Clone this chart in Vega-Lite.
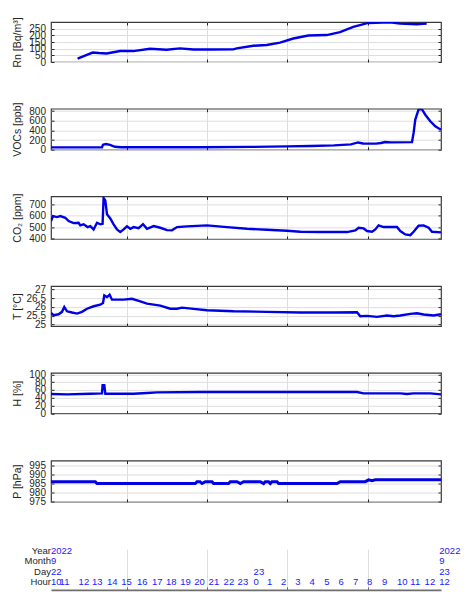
{
  "$schema": "https://vega.github.io/schema/vega-lite/v6.json",
  "padding": {"left": 11, "top": 16, "right": 5, "bottom": 5},
  "background": "white",
  "config": {
    "view": {"stroke": "#3a3a3a", "strokeWidth": 1.2},
    "axis": {
      "labelFont": "Liberation Sans", "labelFontSize": 10, "labelColor": "#262626",
      "labelOverlap": false, "labelFlush": false, "labelPadding": 8.5,
      "titleFont": "Liberation Sans", "titleFontSize": 10.5, "titleFontWeight": "normal", "titleColor": "#262626",
      "tickSize": -3, "tickColor": "#262626", "tickWidth": 1,
      "gridColor": "#dedede", "gridWidth": 1,
      "domain": false
    },
    "axisLeft": {"titleX": -34, "titleBaseline": "middle", "titleAngle": 270}
  },
  "datasets": {
    "rn": [
      {"i": 26.6, "v": 25}, {"i": 34, "v": 48}, {"i": 41.7, "v": 71}, {"i": 48, "v": 67}, {"i": 55.7, "v": 64},
      {"i": 69, "v": 82}, {"i": 82.3, "v": 82}, {"i": 99, "v": 99}, {"i": 115.7, "v": 92}, {"i": 129, "v": 102},
      {"i": 142.3, "v": 94}, {"i": 160, "v": 94}, {"i": 182.3, "v": 95}, {"i": 185.7, "v": 102}, {"i": 202.3, "v": 122},
      {"i": 215.7, "v": 128}, {"i": 229, "v": 145}, {"i": 242.3, "v": 176}, {"i": 257.3, "v": 199}, {"i": 275.7, "v": 202},
      {"i": 289, "v": 224}, {"i": 302.3, "v": 263}, {"i": 317.3, "v": 293}, {"i": 339, "v": 298}, {"i": 349, "v": 288},
      {"i": 365.7, "v": 283}, {"i": 375.7, "v": 288}
    ],
    "voc": [
      {"i": 0, "v": 49}, {"i": 20, "v": 48}, {"i": 40, "v": 49}, {"i": 51, "v": 50}, {"i": 52, "v": 104}, {"i": 55, "v": 118},
      {"i": 59, "v": 100}, {"i": 64, "v": 60}, {"i": 70, "v": 50}, {"i": 100, "v": 50}, {"i": 150, "v": 52},
      {"i": 200, "v": 58}, {"i": 236, "v": 68}, {"i": 260, "v": 78}, {"i": 283, "v": 90}, {"i": 300, "v": 110},
      {"i": 307, "v": 150}, {"i": 312, "v": 128}, {"i": 325, "v": 125}, {"i": 330, "v": 140}, {"i": 334, "v": 160},
      {"i": 340, "v": 152}, {"i": 361, "v": 158}, {"i": 362.6, "v": 348}, {"i": 364.3, "v": 626}, {"i": 367.6, "v": 835},
      {"i": 371, "v": 835}, {"i": 374.3, "v": 725}, {"i": 379.3, "v": 590}, {"i": 384.3, "v": 483}, {"i": 388.6, "v": 430},
      {"i": 390, "v": 425}
    ],
    "co2": [
      {"i": 0, "v": 553}, {"i": 2, "v": 597}, {"i": 6, "v": 588}, {"i": 9.3, "v": 597}, {"i": 14.3, "v": 582},
      {"i": 17.6, "v": 553}, {"i": 22.6, "v": 535}, {"i": 27.6, "v": 538}, {"i": 29.3, "v": 515}, {"i": 32.6, "v": 524},
      {"i": 36.6, "v": 500}, {"i": 39.3, "v": 509}, {"i": 42.6, "v": 479}, {"i": 46, "v": 538}, {"i": 49.3, "v": 524},
      {"i": 51.6, "v": 529}, {"i": 52.6, "v": 756}, {"i": 54.3, "v": 735}, {"i": 56, "v": 612}, {"i": 59.3, "v": 576},
      {"i": 62.6, "v": 524}, {"i": 66, "v": 479}, {"i": 69.3, "v": 456}, {"i": 72.6, "v": 479}, {"i": 76, "v": 506},
      {"i": 79.3, "v": 485}, {"i": 82.6, "v": 500}, {"i": 87.6, "v": 491}, {"i": 92, "v": 526}, {"i": 96, "v": 485},
      {"i": 102.6, "v": 509}, {"i": 109.3, "v": 494}, {"i": 116, "v": 473}, {"i": 121, "v": 471}, {"i": 126, "v": 500},
      {"i": 136, "v": 506}, {"i": 156, "v": 515}, {"i": 176, "v": 500}, {"i": 196, "v": 485}, {"i": 216, "v": 476},
      {"i": 236, "v": 468}, {"i": 249.3, "v": 459}, {"i": 269.3, "v": 456}, {"i": 296, "v": 456}, {"i": 304.3, "v": 471},
      {"i": 307.6, "v": 494}, {"i": 312.6, "v": 488}, {"i": 316, "v": 465}, {"i": 321, "v": 459}, {"i": 324.3, "v": 479},
      {"i": 327.6, "v": 515}, {"i": 332.6, "v": 500}, {"i": 339.3, "v": 500}, {"i": 346, "v": 500}, {"i": 349.3, "v": 465},
      {"i": 354.3, "v": 435}, {"i": 359.3, "v": 429}, {"i": 362.6, "v": 459}, {"i": 367.6, "v": 512}, {"i": 372.6, "v": 515},
      {"i": 377.6, "v": 494}, {"i": 381, "v": 459}, {"i": 390, "v": 453}
    ],
    "t": [
      {"i": 0, "v": 25.66}, {"i": 2.6, "v": 25.53}, {"i": 7.6, "v": 25.58}, {"i": 11, "v": 25.72}, {"i": 13.3, "v": 26.0},
      {"i": 16, "v": 25.75}, {"i": 21, "v": 25.68}, {"i": 26, "v": 25.62}, {"i": 31, "v": 25.72}, {"i": 36, "v": 25.9},
      {"i": 42.6, "v": 26.04}, {"i": 49.3, "v": 26.13}, {"i": 52, "v": 26.23}, {"i": 53.3, "v": 26.66}, {"i": 56, "v": 26.57},
      {"i": 58.6, "v": 26.7}, {"i": 61, "v": 26.42}, {"i": 66, "v": 26.42}, {"i": 72.6, "v": 26.42}, {"i": 81, "v": 26.47},
      {"i": 89.3, "v": 26.32}, {"i": 96, "v": 26.19}, {"i": 109.3, "v": 26.08}, {"i": 119.3, "v": 25.9}, {"i": 126, "v": 25.9},
      {"i": 131, "v": 25.96}, {"i": 142.6, "v": 25.89}, {"i": 156, "v": 25.81}, {"i": 182.6, "v": 25.75}, {"i": 216, "v": 25.72},
      {"i": 249.3, "v": 25.68}, {"i": 282.6, "v": 25.68}, {"i": 306, "v": 25.7}, {"i": 309.3, "v": 25.47}, {"i": 316, "v": 25.49},
      {"i": 326, "v": 25.43}, {"i": 336, "v": 25.51}, {"i": 342.6, "v": 25.47}, {"i": 349.3, "v": 25.51}, {"i": 359.3, "v": 25.6},
      {"i": 366, "v": 25.64}, {"i": 372.6, "v": 25.57}, {"i": 382.6, "v": 25.51}, {"i": 390, "v": 25.58}
    ],
    "h": [
      {"i": 0, "v": 49.6}, {"i": 16, "v": 48.7}, {"i": 39.3, "v": 50.4}, {"i": 51, "v": 51.3}, {"i": 51.6, "v": 72},
      {"i": 53.3, "v": 72}, {"i": 54.3, "v": 50.4}, {"i": 82.6, "v": 50.4}, {"i": 96, "v": 52.2}, {"i": 106, "v": 53.9},
      {"i": 150, "v": 54.7}, {"i": 306, "v": 54.7}, {"i": 312.6, "v": 51.3}, {"i": 349.3, "v": 51.3}, {"i": 356, "v": 49.6},
      {"i": 362.6, "v": 51.3}, {"i": 379.3, "v": 51.3}, {"i": 390, "v": 48.7}
    ],
    "p": [
      {"i": 0, "v": 986}, {"i": 44.3, "v": 986}, {"i": 46, "v": 985}, {"i": 144.3, "v": 985}, {"i": 146, "v": 986},
      {"i": 149, "v": 986}, {"i": 151, "v": 985}, {"i": 154.3, "v": 986}, {"i": 161, "v": 986}, {"i": 162.6, "v": 985},
      {"i": 177.6, "v": 985}, {"i": 179.3, "v": 986}, {"i": 186, "v": 986}, {"i": 189.3, "v": 985}, {"i": 192.6, "v": 986},
      {"i": 209.3, "v": 986}, {"i": 212.6, "v": 985}, {"i": 214.3, "v": 986}, {"i": 217.6, "v": 986}, {"i": 219.3, "v": 985},
      {"i": 221, "v": 986}, {"i": 226, "v": 986}, {"i": 227.6, "v": 985}, {"i": 286, "v": 985}, {"i": 289.3, "v": 986},
      {"i": 314.3, "v": 986}, {"i": 317.6, "v": 987}, {"i": 321, "v": 986.5}, {"i": 324.3, "v": 987}, {"i": 390, "v": 987}
    ],
    "hdr": [
      {"i": 0, "r": 4, "s": "Year"}, {"i": 0, "r": 3, "s": "Month"}, {"i": 0, "r": 2, "s": "Day"}, {"i": 0, "r": 1, "s": "Hour"}
    ],
    "lab": [
      {"i": 0, "r": 4, "s": "2022"}, {"i": 388.3, "r": 4, "s": "2022"},
      {"i": 0, "r": 3, "s": "9"}, {"i": 388.3, "r": 3, "s": "9"},
      {"i": 0, "r": 2, "s": "22"}, {"i": 202.6, "r": 2, "s": "23"}, {"i": 388.3, "r": 2, "s": "23"},
      {"i": 0, "r": 1, "s": "10"}, {"i": 8.6, "r": 1, "s": "11"}, {"i": 27.6, "r": 1, "s": "12"}, {"i": 41, "r": 1, "s": "13"},
      {"i": 56, "r": 1, "s": "14"}, {"i": 70.3, "r": 1, "s": "15"}, {"i": 86, "r": 1, "s": "16"}, {"i": 101, "r": 1, "s": "17"},
      {"i": 115, "r": 1, "s": "18"}, {"i": 129.3, "r": 1, "s": "19"}, {"i": 143.3, "r": 1, "s": "20"}, {"i": 157.6, "r": 1, "s": "21"},
      {"i": 172.6, "r": 1, "s": "22"}, {"i": 186.6, "r": 1, "s": "23"}, {"i": 202.6, "r": 1, "s": "0"}, {"i": 216, "r": 1, "s": "1"},
      {"i": 230, "r": 1, "s": "2"}, {"i": 244.3, "r": 1, "s": "3"}, {"i": 258.6, "r": 1, "s": "4"}, {"i": 273.3, "r": 1, "s": "5"},
      {"i": 287.6, "r": 1, "s": "6"}, {"i": 302, "r": 1, "s": "7"}, {"i": 316, "r": 1, "s": "8"}, {"i": 331, "r": 1, "s": "9"},
      {"i": 346, "r": 1, "s": "10"}, {"i": 359.3, "r": 1, "s": "11"}, {"i": 373.6, "r": 1, "s": "12"}, {"i": 388.3, "r": 1, "s": "12"}
    ]
  },
  "vconcat": [
    {
      "width": 390, "height": 40, "data": {"name": "rn"},
      "layer": [
        {"mark": {"type": "line", "color": "#0000e6", "strokeWidth": 2.4, "clip": true},
         "encoding": {
           "x": {"field": "i", "type": "quantitative", "scale": {"domain": [0, 390], "nice": false, "zero": false}, "axis": {"orient": "bottom", "values": [75.5, 156, 236.5, 317], "labels": false, "grid": true, "title": null}},
           "y": {"field": "v", "type": "quantitative", "scale": {"domain": [0, 300], "nice": false, "zero": false}, "axis": {"orient": "left", "values": [0, 50, 100, 150, 200, 250], "grid": true, "labelExpr": "'' + datum.value", "title": "Rn [Bq/m³]"}}}},
        {"mark": {"type": "line", "strokeOpacity": 0},
         "encoding": {
           "x": {"field": "i", "type": "quantitative", "axis": {"orient": "top", "values": [75.5, 156, 236.5, 317], "labels": false, "grid": false, "title": null}},
           "y": {"field": "v", "type": "quantitative", "axis": {"orient": "right", "values": [0, 50, 100, 150, 200, 250], "labels": false, "grid": false, "title": null}}}}
      ],
      "resolve": {"axis": {"x": "independent", "y": "independent"}}
    },
    {
      "width": 390, "height": 41, "data": {"name": "voc"},
      "layer": [
        {"mark": {"type": "line", "color": "#0000e6", "strokeWidth": 2.4, "clip": true},
         "encoding": {
           "x": {"field": "i", "type": "quantitative", "scale": {"domain": [0, 390], "nice": false, "zero": false}, "axis": {"orient": "bottom", "values": [75.5, 156, 236.5, 317], "labels": false, "grid": true, "title": null}},
           "y": {"field": "v", "type": "quantitative", "scale": {"domain": [0, 850], "nice": false, "zero": false}, "axis": {"orient": "left", "values": [0, 200, 400, 600, 800], "grid": true, "labelExpr": "'' + datum.value", "title": "VOCs [ppb]"}}}},
        {"mark": {"type": "line", "strokeOpacity": 0},
         "encoding": {
           "x": {"field": "i", "type": "quantitative", "axis": {"orient": "top", "values": [75.5, 156, 236.5, 317], "labels": false, "grid": false, "title": null}},
           "y": {"field": "v", "type": "quantitative", "axis": {"orient": "right", "values": [0, 200, 400, 600, 800], "labels": false, "grid": false, "title": null}}}}
      ],
      "resolve": {"axis": {"x": "independent", "y": "independent"}}
    },
    {
      "width": 390, "height": 42.6, "data": {"name": "co2"},
      "layer": [
        {"mark": {"type": "line", "color": "#0000e6", "strokeWidth": 2.4, "clip": true},
         "encoding": {
           "x": {"field": "i", "type": "quantitative", "scale": {"domain": [0, 390], "nice": false, "zero": false}, "axis": {"orient": "bottom", "values": [75.5, 156, 236.5, 317], "labels": false, "grid": true, "title": null}},
           "y": {"field": "v", "type": "quantitative", "scale": {"domain": [395, 770], "nice": false, "zero": false}, "axis": {"orient": "left", "values": [400, 500, 600, 700], "grid": true, "labelExpr": "'' + datum.value", "title": "CO₂ [ppm]"}}}},
        {"mark": {"type": "line", "strokeOpacity": 0},
         "encoding": {
           "x": {"field": "i", "type": "quantitative", "axis": {"orient": "top", "values": [75.5, 156, 236.5, 317], "labels": false, "grid": false, "title": null}},
           "y": {"field": "v", "type": "quantitative", "axis": {"orient": "right", "values": [400, 500, 600, 700], "labels": false, "grid": false, "title": null}}}}
      ],
      "resolve": {"axis": {"x": "independent", "y": "independent"}}
    },
    {
      "width": 390, "height": 40, "data": {"name": "t"},
      "layer": [
        {"mark": {"type": "line", "color": "#0000e6", "strokeWidth": 2.4, "clip": true},
         "encoding": {
           "x": {"field": "i", "type": "quantitative", "scale": {"domain": [0, 390], "nice": false, "zero": false}, "axis": {"orient": "bottom", "values": [75.5, 156, 236.5, 317], "labels": false, "grid": true, "title": null}},
           "y": {"field": "v", "type": "quantitative", "scale": {"domain": [24.9, 27.2], "nice": false, "zero": false}, "axis": {"orient": "left", "values": [25, 25.5, 26, 26.5, 27], "grid": true, "labelExpr": "'' + datum.value", "title": "T [°C]"}}}},
        {"mark": {"type": "line", "strokeOpacity": 0},
         "encoding": {
           "x": {"field": "i", "type": "quantitative", "axis": {"orient": "top", "values": [75.5, 156, 236.5, 317], "labels": false, "grid": false, "title": null}},
           "y": {"field": "v", "type": "quantitative", "axis": {"orient": "right", "values": [25, 25.5, 26, 26.5, 27], "labels": false, "grid": false, "title": null}}}}
      ],
      "resolve": {"axis": {"x": "independent", "y": "independent"}}
    },
    {
      "width": 390, "height": 40.6, "data": {"name": "h"},
      "layer": [
        {"mark": {"type": "line", "color": "#0000e6", "strokeWidth": 2.4, "clip": true},
         "encoding": {
           "x": {"field": "i", "type": "quantitative", "scale": {"domain": [0, 390], "nice": false, "zero": false}, "axis": {"orient": "bottom", "values": [75.5, 156, 236.5, 317], "labels": false, "grid": true, "title": null}},
           "y": {"field": "v", "type": "quantitative", "scale": {"domain": [0, 104], "nice": false, "zero": false}, "axis": {"orient": "left", "values": [0, 20, 40, 60, 80, 100], "grid": true, "labelExpr": "'' + datum.value", "title": "H [%]"}}}},
        {"mark": {"type": "line", "strokeOpacity": 0},
         "encoding": {
           "x": {"field": "i", "type": "quantitative", "axis": {"orient": "top", "values": [75.5, 156, 236.5, 317], "labels": false, "grid": false, "title": null}},
           "y": {"field": "v", "type": "quantitative", "axis": {"orient": "right", "values": [0, 20, 40, 60, 80, 100], "labels": false, "grid": false, "title": null}}}}
      ],
      "resolve": {"axis": {"x": "independent", "y": "independent"}}
    },
    {
      "width": 390, "height": 41.4, "data": {"name": "p"},
      "layer": [
        {"mark": {"type": "line", "color": "#0000e6", "strokeWidth": 3, "clip": true},
         "encoding": {
           "x": {"field": "i", "type": "quantitative", "scale": {"domain": [0, 390], "nice": false, "zero": false}, "axis": {"orient": "bottom", "values": [75.5, 156, 236.5, 317], "labels": false, "grid": true, "title": null}},
           "y": {"field": "v", "type": "quantitative", "scale": {"domain": [975, 997.5], "nice": false, "zero": false}, "axis": {"orient": "left", "values": [975, 980, 985, 990, 995], "grid": true, "labelExpr": "'' + datum.value", "title": "P [hPa]"}}}},
        {"mark": {"type": "line", "strokeOpacity": 0},
         "encoding": {
           "x": {"field": "i", "type": "quantitative", "axis": {"orient": "top", "values": [75.5, 156, 236.5, 317], "labels": false, "grid": false, "title": null}},
           "y": {"field": "v", "type": "quantitative", "axis": {"orient": "right", "values": [975, 980, 985, 990, 995], "labels": false, "grid": false, "title": null}}}}
      ],
      "resolve": {"axis": {"x": "independent", "y": "independent"}}
    },
    {
      "width": 390, "height": 40.6,
      "view": {"stroke": null},
      "layer": [
        {"data": {"name": "lab"},
         "mark": {"type": "text", "align": "left", "baseline": "middle", "font": "Liberation Sans", "fontSize": 9.5, "color": "#1a1aff"},
         "encoding": {
           "x": {"field": "i", "type": "quantitative", "scale": {"domain": [0, 390], "nice": false, "zero": false}, "axis": {"orient": "bottom", "values": [75.5, 156, 236.5, 317], "labels": false, "grid": true, "domain": true, "domainColor": "#6e6e6e", "domainWidth": 1.8, "tickColor": "#6e6e6e", "title": null}},
           "y": {"field": "r", "type": "quantitative", "scale": {"domain": [0.29, 4.15], "nice": false, "zero": false}, "axis": null},
           "text": {"field": "s"}}},
        {"data": {"name": "hdr"},
         "mark": {"type": "text", "align": "right", "baseline": "middle", "font": "Liberation Sans", "fontSize": 9.5, "color": "#262626"},
         "encoding": {
           "x": {"field": "i", "type": "quantitative"},
           "y": {"field": "r", "type": "quantitative"},
           "text": {"field": "s"}}}
      ]
    }
  ],
  "spacing": 46.7,
  "bounds": "flush"
}
